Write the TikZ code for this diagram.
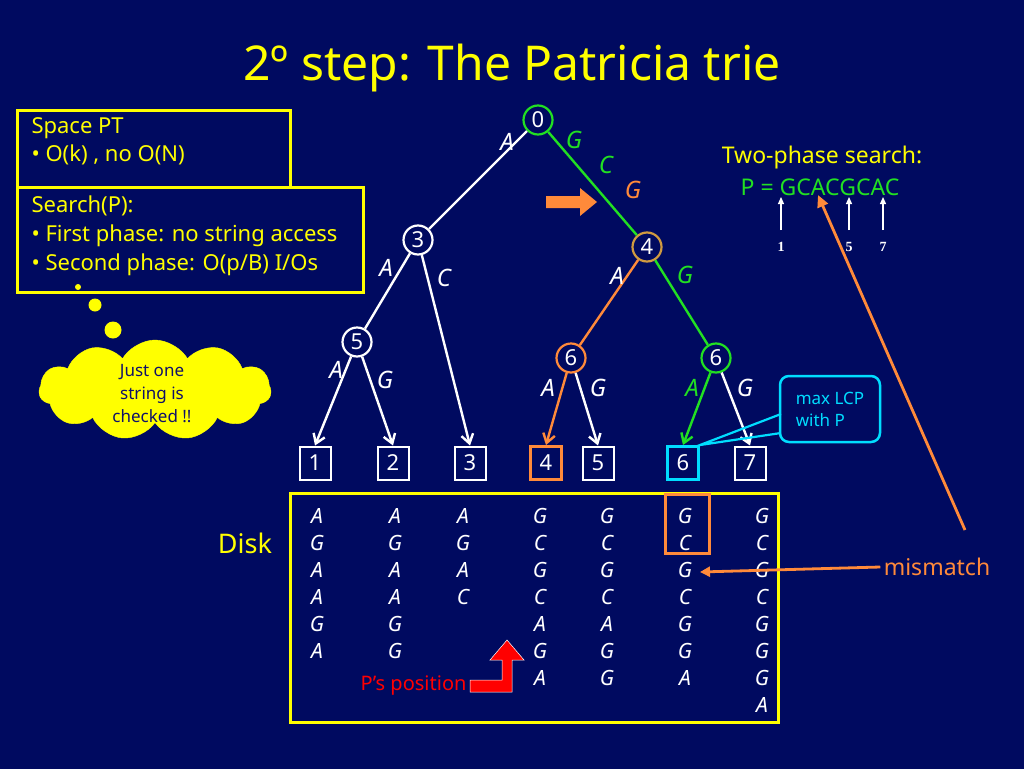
\documentclass[tikz,border=0pt]{standalone}
\usepackage{fontspec}
\setmainfont{Noto Sans}
\newfontfamily\serifnum{Liberation Serif}
\usetikzlibrary{shapes.symbols,arrows.meta}
\definecolor{yel}{HTML}{FFFF00}
\definecolor{grn}{HTML}{22E022}
\definecolor{org}{HTML}{FF8A3A}
\definecolor{cyn}{HTML}{00DDFF}
\definecolor{gold}{HTML}{D09A40}
\definecolor{bgedge}{HTML}{000A60}
\definecolor{bgmid}{HTML}{1434B8}
\definecolor{cloudtxt}{HTML}{10106A}
\begin{document}
\begin{tikzpicture}[x=1pt,y=-1pt,
  inode/.style={circle,draw=white,line width=2.2pt,inner sep=0pt,minimum size=29pt,text=white,font=\fontsize{22}{22}\selectfont},
  leaf/.style={rectangle,draw=white,line width=2pt,inner sep=0pt,minimum width=31pt,minimum height=33pt,text=white,font=\fontsize{22}{22}\selectfont},
  edge/.style={line width=2.4pt,draw=white},
  arr/.style={edge,-{Straight Barb[length=9pt,width=12pt]}},
  lab/.style={text=white,font=\itshape\fontsize{24}{24}\selectfont},
  ch/.style={text=white,font=\itshape\fontsize{21}{21}\selectfont},
  ybox/.style={draw=yel,line width=3pt,fill=none}]
\shade[top color=bgedge, middle color=bgmid, bottom color=bgedge] (0,0) rectangle (1024,768);
\useasboundingbox (0,0) rectangle (1024,768);
\node[text=yel,font=\fontsize{48}{48}\selectfont] (title) at (512,68) {2º step: The Patricia trie};
% boxes
\draw[ybox] (17,110) rectangle (290,187);
\node[text=yel,anchor=north west,align=left,font=\fontsize{22}{28}\selectfont] (b1) at (28,114) {Space PT\\ • O(k) , no O(N)};
\draw[ybox] (17,187) rectangle (363,292);
\node[text=yel,anchor=north west,align=left,font=\fontsize{22}{29}\selectfont] (b2) at (28,192) {Search(P):\\ • First phase: no string access\\ • Second phase: O(p/B) I/Os};
\fill[yel] (78,287) circle (3);
\fill[yel] (95,305) circle (6.5);
\fill[yel] (113,330) circle (8.5);
\node[cloud,cloud puffs=11,cloud puff arc=120,aspect=2.5,fill=yel,draw=yel,minimum width=232pt,minimum height=100pt,inner sep=0pt] (cloud) at (155,390) {};
\node[font=\bfseries\fontsize{17}{23}\selectfont,align=center,text=cloudtxt] at (152,394) {Just one\\ string is\\ checked !!};
% tree nodes
\node[inode,draw=grn] (n0) at (538,120) {0};
\node[inode] (n3) at (418,240) {3};
\node[inode,draw=gold] (n4) at (647,247) {4};
\node[inode] (n5) at (357,342) {5};
\node[inode,draw=org] (n6a) at (571,358) {6};
\node[inode,draw=grn] (n6b) at (716,358) {6};
\node[leaf] (l1) at (315,463) {1};
\node[leaf] (l2) at (393,463) {2};
\node[leaf] (l3) at (470,463) {3};
\node[leaf,draw=org,line width=3pt] (l4) at (546,463) {4};
\node[leaf] (l5) at (598,463) {5};
\node[leaf,draw=cyn,line width=3pt] (l6) at (683,463) {6};
\node[leaf] (l7) at (750,463) {7};
\draw[edge] (n0) -- (n3);
\draw[edge,draw=grn] (n0) -- (n4);
\draw[edge] (n3) -- (n5);
\draw[arr] (n3) -- (l3.north);
\draw[arr] (n5) -- (l1.north);
\draw[arr] (n5) -- (l2.north);
\draw[edge,draw=org] (n4) -- (n6a);
\draw[edge,draw=grn] (n4) -- (n6b);
\draw[arr,draw=org] (n6a) -- (l4.north);
\draw[arr] (n6a) -- (l5.north);
\draw[arr,draw=grn] (n6b) -- (l6.north);
\draw[arr] (n6b) -- (l7.north);
% labels
\node[lab] at (507,142) {A};
\node[lab,text=grn] at (574,140) {G};
\node[lab,text=grn] at (606,165) {C};
\node[lab,text=org] at (633,190) {G};
\node[lab] at (386,268) {A};
\node[lab] at (444,278) {C};
\node[lab] at (617,276) {A};
\node[lab,text=grn] at (685,275) {G};
\node[lab] at (336,370) {A};
\node[lab] at (385,380) {G};
\node[lab] at (548,388) {A};
\node[lab] at (598,388) {G};
\node[lab,text=grn] at (692,388) {A};
\node[lab] at (745,388) {G};
\fill[org] (546,196) -- (580,196) -- (580,188) -- (597,202) -- (580,216) -- (580,208) -- (546,208) -- cycle;
% two phase
\node[text=yel,font=\fontsize{23}{23}\selectfont] (tp) at (822,158) {Two-phase search:};
\node[text=grn,font=\fontsize{23}{23}\selectfont] (pp) at (820,187) {P = GCACGCAC};
\foreach \x/\n in {781/1,849/5,883/7}{
  \coordinate (a\n) at (\x,230);
  \coordinate (b\n) at (\x,197);
  \draw[white,line width=1.2pt,-{Triangle[length=7pt,width=6pt]}] (a\n) -- (b\n);
  \node[text=white,font=\serifnum\bfseries\fontsize{14}{14}\selectfont] at (\x,247) {\n};
}
% max LCP
\node[draw=cyn,line width=2.5pt,rounded corners=9pt,minimum width=100pt,minimum height=66pt,text=cyn,font=\bfseries\fontsize{17}{22}\selectfont,align=left] (lcp) at (830,409) {max LCP\\ with P};
\coordinate (c1) at (781,414);
\coordinate (c2) at (781,433);
\draw[cyn,line width=2.2pt] (c1) -- (l6.north east) -- (c2);
% disk
\draw[ybox] (290,493) rectangle (778,722);
\node[text=yel,font=\fontsize{27}{27}\selectfont] (disk) at (245,543) {Disk};
\foreach \x/\s in {317/{A,G,A,A,G,A},395/{A,G,A,A,G,G},463/{A,G,A,C},540/{G,C,G,C,A,G,A},607/{G,C,G,C,A,G,G},685/{G,C,G,C,G,G,A},762/{G,C,G,C,G,G,G,A}}{
  \foreach \c [count=\i] in \s {
    \node[ch] at (\x,{489+27*\i}) {\c};
  }
}
\draw[org,line width=3pt] (665,494) rectangle (709,553);
\node[text=org,font=\fontsize{23}{23}\selectfont] (mm) at (937,567) {mismatch};
\draw[org,line width=2.8pt,-{Triangle[length=10pt,width=10pt]}] (mm.west) -- (700,572);
\draw[org,line width=2.8pt,-{Triangle[length=12pt,width=11pt]}] (965,530) -- (818,195);
\node[text=red,font=\fontsize{20}{20}\selectfont,anchor=east] (ppos) at (470,686) {P’s position};
\fill[red,draw=white,line width=0.5pt] (470,680) -- (502,680) -- (502,660) -- (490,660) -- (507,640) -- (524,660) -- (512,660) -- (512,692) -- (470,692) -- cycle;
\end{tikzpicture}
\end{document}
